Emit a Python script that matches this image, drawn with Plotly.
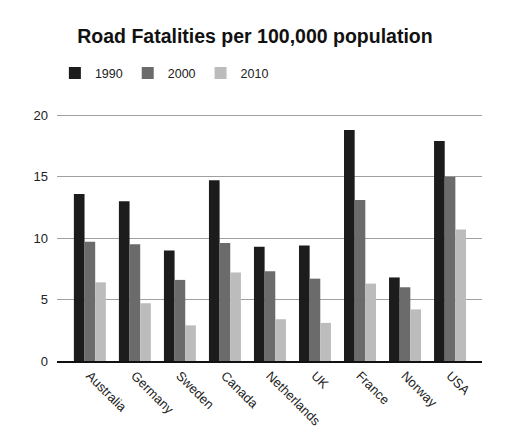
import plotly.graph_objects as go

countries = ["Australia", "Germany", "Sweden", "Canada", "Netherlands", "UK", "France", "Norway", "USA"]
years = ["1990", "2000", "2010"]
v1990 = [13.6, 13.0, 9.0, 14.7, 9.3, 9.4, 18.8, 6.8, 17.9]
v2000 = [9.7, 9.5, 6.6, 9.6, 7.3, 6.7, 13.1, 6.0, 15.0]
v2010 = [6.4, 4.7, 2.9, 7.2, 3.4, 3.1, 6.3, 4.2, 10.7]
colors = ["#1c1c1c", "#6b6b6b", "#bcbcbc"]
y_ticks = [0, 5, 10, 15, 20]

fig = go.Figure()
for name, vals, c in zip(years, [v1990, v2000, v2010], colors):
    fig.add_trace(go.Bar(x=countries, y=vals, name=name, marker=dict(color=c, line=dict(width=0))))

fig.update_layout(
    width=504, height=433,
    paper_bgcolor="white", plot_bgcolor="white",
    barmode="group", bargap=0.29, bargroupgap=0,
    margin=dict(l=49, r=30, t=106, b=77),
    font=dict(family="Liberation Sans, Arial, sans-serif", size=13, color="#222"),
    title=dict(text="<b>Road Fatalities per 100,000 population</b>", x=0.49, xanchor="center",
               y=0.935, yanchor="middle", font=dict(size=19.5, color="#111")),
    legend=dict(orientation="h", x=-0.005, y=1.225, xanchor="left", yanchor="top",
                font=dict(size=12.5), itemwidth=30, traceorder="normal"),
    showlegend=True,
)
fig.update_xaxes(range=[-0.73, 8.71], tickangle=45, showline=True, linecolor="#111", linewidth=2,
                 ticks="", showgrid=False, tickfont=dict(size=13))
fig.update_yaxes(range=[0, 20.1], tickvals=y_ticks, showgrid=True, gridcolor="#a0a0a0",
                 gridwidth=1, zeroline=False, showline=False, ticks="", tickfont=dict(size=13),
                 ticklabelstandoff=8)

fig.write_html("out.html")
